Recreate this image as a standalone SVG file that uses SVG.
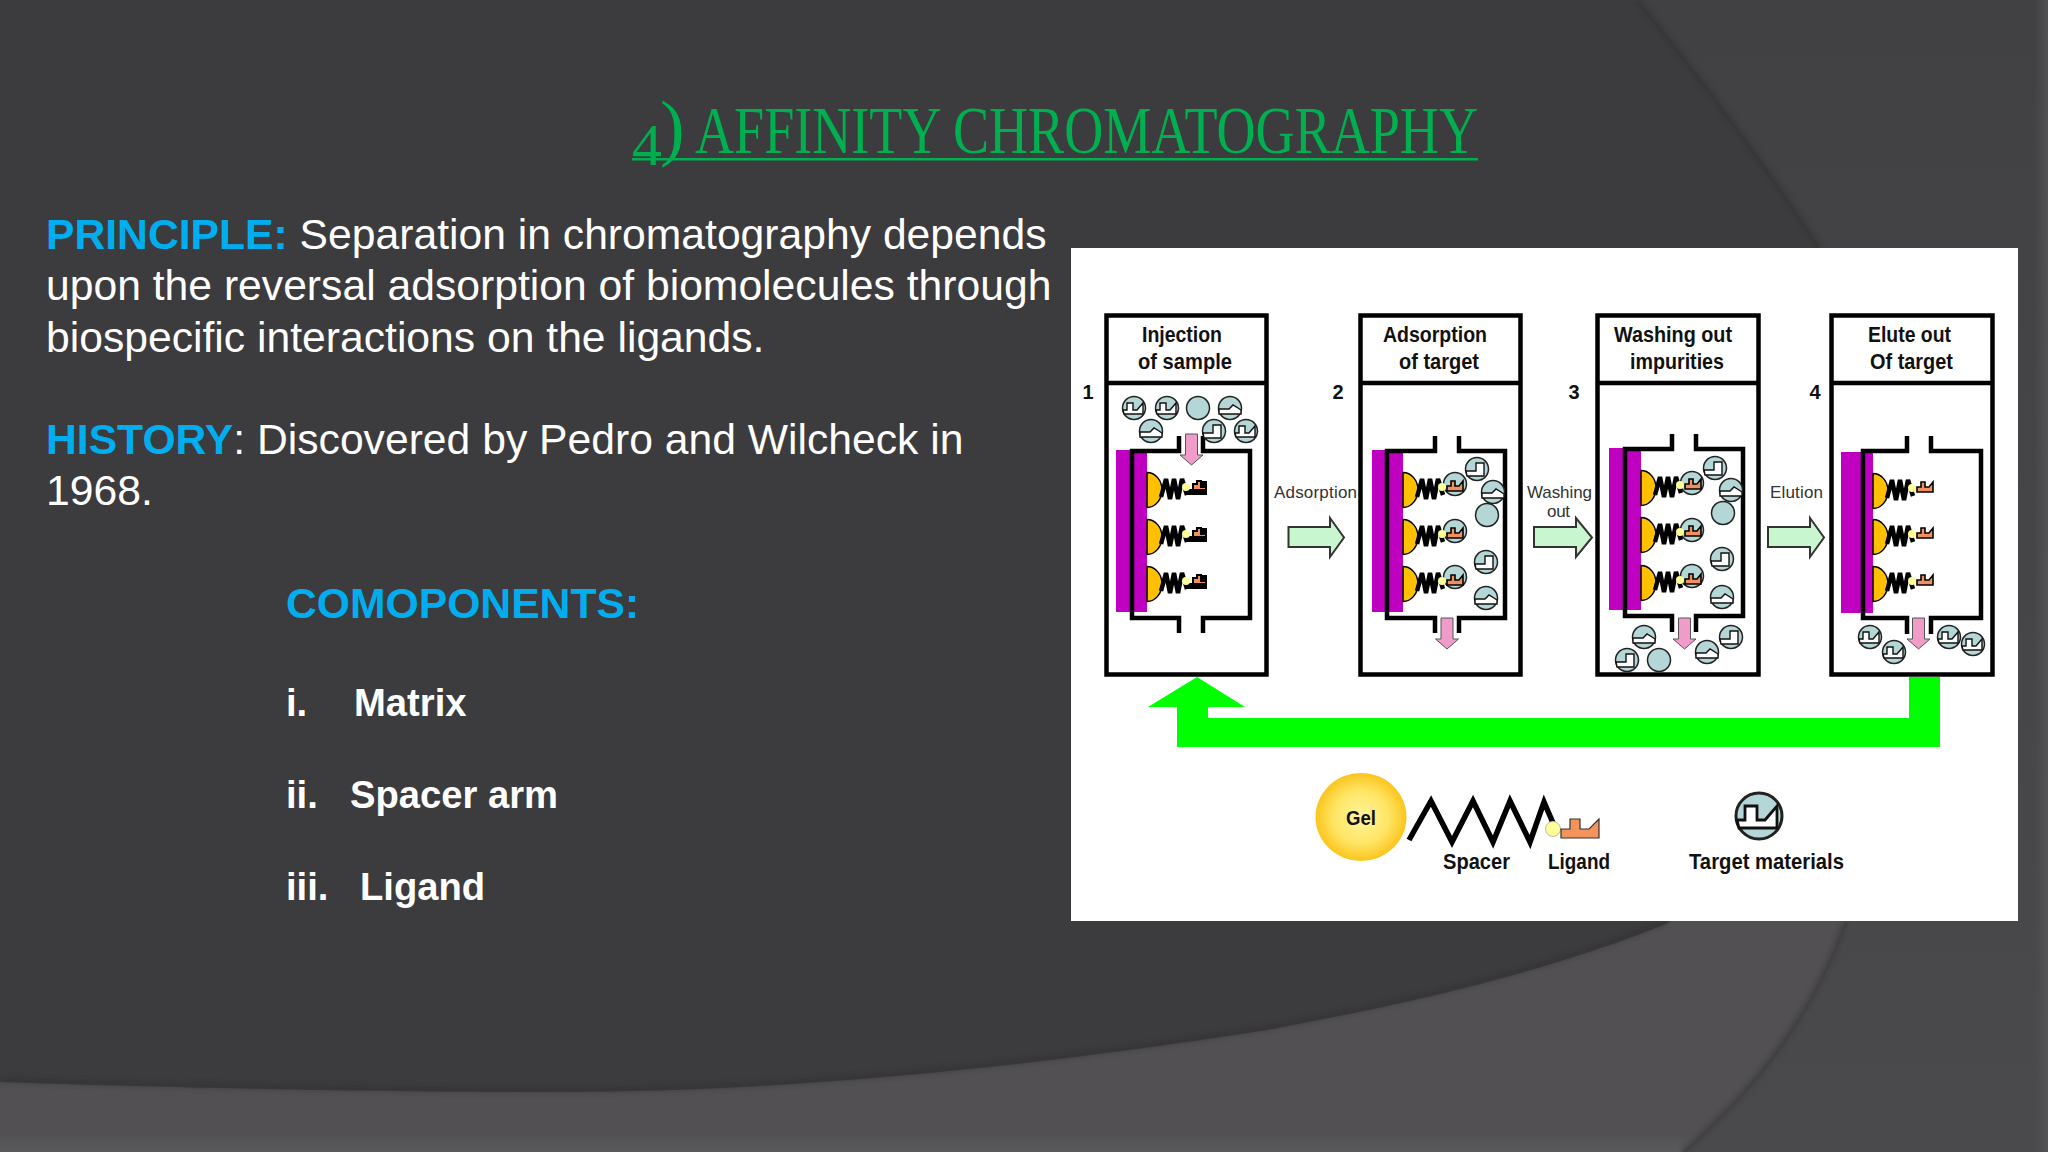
<svg xmlns="http://www.w3.org/2000/svg" width="2048" height="1152" viewBox="0 0 2048 1152">
<style>
.body{font-family:"Liberation Sans",Arial,sans-serif;font-size:42.67px;fill:#fff}
.blue{fill:#00aeef;font-weight:bold}
.item{font-family:"Liberation Sans",Arial,sans-serif;font-size:38.2px;font-weight:bold;fill:#fff}
.head{font-family:"Liberation Sans",Arial,sans-serif;font-size:22px;font-weight:bold;fill:#111}
.num{font-family:"Liberation Sans",Arial,sans-serif;font-size:20px;font-weight:bold;fill:#111;text-anchor:middle}
.lab{font-family:"Liberation Sans",Arial,sans-serif;font-size:17px;fill:#333}
.title{font-family:"Liberation Serif","Times New Roman",serif;fill:#00b050}
.box{fill:#fff;stroke:#000;stroke-width:4.5}
.wall{fill:none;stroke:#000;stroke-width:4.5;stroke-linejoin:miter}
.matrix{fill:#c000c0}
.flow{fill:#c8f7cf;stroke:#333;stroke-width:2}
.pink{fill:#f09cc8;stroke:#555;stroke-width:1}
.tc{fill:#b5d6d6;stroke:#222;stroke-width:1.5}
.tw{fill:#fff;stroke:#111;stroke-width:1.4}
.shade{fill:none;stroke:#2a292b;stroke-width:5;opacity:.4;filter:url(#soft)}
</style>
<defs>
<filter id="soft" filterUnits="userSpaceOnUse" x="0" y="0" width="2048" height="1152"><feGaussianBlur stdDeviation="2.5"/></filter>
<linearGradient id="bgR" x1="0" y1="0" x2="0" y2="1"><stop offset="0" stop-color="#414042"/><stop offset="1" stop-color="#4a494b"/></linearGradient>
<linearGradient id="bgB" x1="0" y1="0" x2="0" y2="1"><stop offset="0" stop-color="#525053"/><stop offset=".93" stop-color="#525053"/><stop offset="1" stop-color="#5a595b"/></linearGradient>
<linearGradient id="edge" x1="0" y1="0" x2="1" y2="0"><stop offset="0" stop-color="#555" stop-opacity="0"/><stop offset="1" stop-color="#59585a" stop-opacity=".7"/></linearGradient>
<radialGradient id="gelFill"><stop offset="0" stop-color="#fff59a"/><stop offset=".6" stop-color="#ffe566"/><stop offset="1" stop-color="#fbc51c"/></radialGradient>
<g id="arm">
<path d="M0,-17.5A15,17.5 0 0 1 0,17.5Z" fill="#ffc000" stroke="#000" stroke-width="1.5"/>
<polyline points="14,7 19,-11 23,9 27,-11 31,9 35,-11 40,5" fill="none" stroke="#000" stroke-width="4.5"/>
<circle cx="39" cy="-3" r="4" fill="#ffff99"/>
<path d="M44,1V-4H48V-9H52V-4H56L60,-9V1Z" fill="#f09060" stroke="#000" stroke-width="1.6"/>
</g>
<g id="armDark">
<path d="M0,-17.5A15,17.5 0 0 1 0,17.5Z" fill="#ffc000" stroke="#000" stroke-width="1.5"/>
<polyline points="14,7 19,-11 23,9 27,-11 31,9 35,-11 40,5" fill="none" stroke="#000" stroke-width="4.5"/>
<path d="M40,-1H60V5H40Z M52,-9H60V0H52Z" fill="#000"/>
<circle cx="39" cy="-3" r="4" fill="#ffff99"/>
<path d="M46,0V-6H50V-9H54V-3H59V0Z" fill="#f09060" stroke="#000" stroke-width="2"/>
</g>
<circle id="tD" class="tc" r="11.5"/>
<g id="tA"><circle class="tc" r="11.5"/><path class="tw" d="M-11,2H-7V-5H-1V2H3L9,-5V6H-10Z"/></g>
<g id="tB"><circle class="tc" r="11.5"/><path class="tw" d="M-11,1H-1L3,-3L8,0L11,2V6H-11Z"/></g>
<g id="tC"><circle class="tc" r="11.5"/><path class="tw" d="M-11,2H-1V-6H7V7H-10Z"/></g>
<path id="pinkArrow" class="pink" d="M-6,0H6V21H11.5L0,31L-11.5,21H-6Z"/>
</defs>

<g id="background">
<rect width="2048" height="1152" fill="url(#bgR)"/>
<path d="M0,900H1845V921Q1800,1050 1682,1152H0Z" fill="url(#bgB)"/>
<path d="M0,0H1638Q1740,125 1820,248L1900,600L1668,923C1540,975 1400,1005 1267,1030C1000,1072 760,1092 560,1092C380,1092 180,1088 0,1082Z" fill="#3c3b3d"/>
<path class="shade" d="M1638,0Q1740,125 1820,248"/>
<path class="shade" d="M1845,921Q1800,1050 1682,1152"/>
<path class="shade" d="M1668,923C1540,975 1400,1005 1267,1030C1000,1072 760,1092 560,1092C380,1092 180,1088 0,1082" transform="translate(0,-2)"/>
<rect x="2034" width="14" height="1152" fill="url(#edge)"/>
</g>

<g id="title">
<text class="title"><tspan x="632" y="165" font-size="60">4</tspan><tspan x="660" y="152" font-size="74">)</tspan><tspan x="695" y="153" font-size="68" textLength="783" lengthAdjust="spacingAndGlyphs">AFFINITY CHROMATOGRAPHY</tspan></text>
<rect x="632" y="158" width="846" height="2.5" fill="#00b050"/>
</g>

<g id="description">
<text class="body" x="46" y="249"><tspan class="blue">PRINCIPLE:</tspan> Separation in chromatography depends</text>
<text class="body" x="46" y="300">upon the reversal adsorption of biomolecules through</text>
<text class="body" x="46" y="352">biospecific interactions on the ligands.</text>
<text class="body" x="46" y="454"><tspan class="blue">HISTORY</tspan>: Discovered by Pedro and Wilcheck in</text>
<text class="body" x="46" y="505">1968.</text>
</g>

<g id="components">
<text class="body blue" x="286" y="618">COMOPONENTS:</text>
<text class="item" x="286" y="716">i.</text><text class="item" x="354" y="716">Matrix</text>
<text class="item" x="286" y="808">ii.</text><text class="item" x="350" y="808">Spacer arm</text>
<text class="item" x="286" y="900">iii.</text><text class="item" x="360" y="900">Ligand</text>
</g>

<rect id="figure" x="1071" y="248" width="947" height="673" fill="#fff"/>

<g id="step1">
<rect class="box" x="1106.5" y="315.5" width="160" height="359"/>
<line class="wall" x1="1106" y1="383" x2="1267" y2="383"/>
<text class="head" x="1142" y="342" textLength="80" lengthAdjust="spacingAndGlyphs">Injection</text>
<text class="head" x="1138" y="369" textLength="94" lengthAdjust="spacingAndGlyphs">of sample</text>
<text class="num" x="1088" y="399">1</text>
<rect class="matrix" x="1116" y="450" width="31" height="162"/>
<path class="wall" d="M1179,436V451H1132V618H1179V633M1203,633V618H1250V451H1203V436"/>
<use href="#tA" x="1134" y="408"/><use href="#tA" x="1167" y="408"/><use href="#tD" x="1198" y="408"/><use href="#tB" x="1230" y="408"/>
<use href="#tB" x="1151" y="431"/><use href="#tC" x="1214" y="431"/><use href="#tA" x="1246" y="431"/>
<use href="#pinkArrow" x="1191.5" y="434"/>
<use href="#armDark" x="1147" y="490"/><use href="#armDark" x="1147" y="537"/><use href="#armDark" x="1147" y="584"/>
</g>

<g id="step2">
<rect class="box" x="1360.5" y="315.5" width="160" height="359"/>
<line class="wall" x1="1360" y1="383" x2="1521" y2="383"/>
<text class="head" x="1383" y="342" textLength="104" lengthAdjust="spacingAndGlyphs">Adsorption</text>
<text class="head" x="1399" y="369" textLength="80" lengthAdjust="spacingAndGlyphs">of target</text>
<text class="num" x="1338" y="399">2</text>
<rect class="matrix" x="1372" y="450" width="31" height="162"/>
<path class="wall" d="M1435,436V451H1387V618H1435V633M1459,633V618H1505V451H1459V436"/>
<use href="#tD" x="1455" y="484"/><use href="#tD" x="1455" y="531"/><use href="#tD" x="1455" y="577"/>
<use href="#arm" x="1403" y="490"/><use href="#arm" x="1403" y="537"/><use href="#arm" x="1403" y="584"/>
<use href="#tC" x="1477" y="469"/><use href="#tB" x="1493" y="492"/><use href="#tD" x="1487" y="515"/><use href="#tC" x="1486" y="562"/><use href="#tB" x="1486" y="598"/>
<use href="#pinkArrow" x="1447" y="618"/>
</g>

<g id="step3">
<rect class="box" x="1597.5" y="315.5" width="161" height="359"/>
<line class="wall" x1="1597" y1="383" x2="1759" y2="383"/>
<text class="head" x="1614" y="342" textLength="118" lengthAdjust="spacingAndGlyphs">Washing out</text>
<text class="head" x="1630" y="369" textLength="94" lengthAdjust="spacingAndGlyphs">impurities</text>
<text class="num" x="1574" y="399">3</text>
<rect class="matrix" x="1609" y="448" width="32" height="162"/>
<path class="wall" d="M1672,434V449H1625V616H1672V632M1696,632V616H1743V449H1696V434"/>
<use href="#tD" x="1692" y="483"/><use href="#tD" x="1692" y="530"/><use href="#tD" x="1692" y="576"/>
<use href="#arm" x="1641" y="488"/><use href="#arm" x="1641" y="535"/><use href="#arm" x="1641" y="583"/>
<use href="#tC" x="1715" y="468"/><use href="#tB" x="1731" y="490"/><use href="#tD" x="1723" y="513"/><use href="#tC" x="1722" y="559"/><use href="#tB" x="1722" y="597"/>
<use href="#pinkArrow" x="1684.5" y="618"/>
<use href="#tB" x="1644" y="637"/><use href="#tC" x="1731" y="637"/><use href="#tB" x="1707" y="652"/><use href="#tC" x="1627" y="660"/><use href="#tD" x="1659" y="660"/>
</g>

<g id="step4">
<rect class="box" x="1831.5" y="315.5" width="161" height="359"/>
<line class="wall" x1="1831" y1="383" x2="1993" y2="383"/>
<text class="head" x="1868" y="342" textLength="83" lengthAdjust="spacingAndGlyphs">Elute out</text>
<text class="head" x="1870" y="369" textLength="83" lengthAdjust="spacingAndGlyphs">Of target</text>
<text class="num" x="1815" y="399">4</text>
<rect class="matrix" x="1841" y="452" width="32" height="161"/>
<path class="wall" d="M1907,436V451H1863V618H1907V634M1931,634V618H1981V451H1931V436"/>
<use href="#arm" x="1873" y="491"/><use href="#arm" x="1873" y="537"/><use href="#arm" x="1873" y="584"/>
<use href="#tA" x="1870" y="637"/><use href="#tA" x="1894" y="652"/><use href="#tA" x="1949" y="637"/><use href="#tA" x="1973" y="644"/>
<use href="#pinkArrow" x="1918.5" y="618"/>
</g>

<g id="connectors">
<g id="adsorption">
<text class="lab" x="1274" y="498" textLength="83" lengthAdjust="spacing">Adsorption</text>
<path class="flow" d="M1288.5,527H1330V518L1344,537.5L1330,557V547H1288.5Z"/>
</g>
<g id="washing">
<text class="lab" x="1527" y="498" textLength="65" lengthAdjust="spacing">Washing</text>
<text class="lab" x="1547" y="517" textLength="23" lengthAdjust="spacing">out</text>
<path class="flow" d="M1534,527H1576V518L1592,537.5L1576,557V547H1534Z"/>
</g>
<g id="elution">
<text class="lab" x="1770" y="498" textLength="53" lengthAdjust="spacing">Elution</text>
<path class="flow" d="M1768,527H1810V518L1824,537.5L1810,557V547H1768Z"/>
</g>
<polygon id="recycle" fill="#00ff00" points="1197,677 1245,707 1208,707 1208,718 1909,718 1909,677 1940,677 1940,747 1177,747 1177,707 1148,707"/>
</g>

<g id="legend">
<g id="legend-gel">
<ellipse cx="1361" cy="817" rx="45.5" ry="44" fill="url(#gelFill)"/>
<text class="head" x="1346" y="825" style="font-size:20px" textLength="30" lengthAdjust="spacingAndGlyphs">Gel</text>
</g>
<g id="legend-spacer">
<polyline points="1409,840 1431,801 1452,842 1473,801 1493,842 1510,801 1530,842 1544,802 1553,823" fill="none" stroke="#000" stroke-width="5.5"/>
<text class="head" x="1443" y="869" textLength="67" lengthAdjust="spacingAndGlyphs">Spacer</text>
</g>
<g id="legend-ligand">
<ellipse cx="1553" cy="829" rx="7.5" ry="7.5" fill="#ffff99" stroke="#bba" stroke-width="1"/>
<path d="M1561,838V829H1570V819H1580V829H1589L1599,819V838Z" fill="#f4935c" stroke="#333" stroke-width="1.2"/>
<text class="head" x="1548" y="869" textLength="62" lengthAdjust="spacingAndGlyphs">Ligand</text>
</g>
<g id="legend-target">
<use href="#tA" transform="translate(1759,816) scale(2)"/>
<text class="head" x="1689" y="869" textLength="155" lengthAdjust="spacingAndGlyphs">Target materials</text>
</g>
</g>
</svg>
